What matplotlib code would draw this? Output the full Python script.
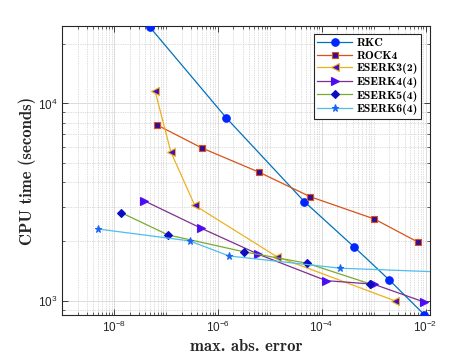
import matplotlib
matplotlib.use("Agg")
import matplotlib.pyplot as plt
from matplotlib.ticker import LogLocator, LogFormatterMathtext, NullFormatter
import matplotlib.font_manager as fm
import os

# ---- data ----
rkc_err = [4.9e-8, 1.46e-6, 4.65e-5, 4.15e-4, 1.99e-3, 9.5e-3]
rkc_cpu = [24400, 8440, 3173, 1877, 1274, 847]

rock4_err = [6.65e-8, 4.97e-7, 6.3e-6, 5.98e-5, 1.03e-3, 7.2e-3]
rock4_cpu = [7790, 5936, 4472, 3365, 2594, 1977]

eserk3_err = [6.17e-8, 1.25e-7, 3.59e-7, 1.36e-5, 2.6e-3]
eserk3_cpu = [11590, 5663, 3042, 1671, 996]

eserk4_err = [3.78e-8, 4.8e-7, 6.03e-6, 1.22e-4, 1.0e-3, 9.5e-3]
eserk4_cpu = [3211, 2327, 1718, 1262, 1211, 982]

eserk5_err = [1.38e-8, 1.1e-7, 3.24e-6, 5.24e-5, 8.57e-4]
eserk5_cpu = [2791, 2153, 1766, 1546, 1215]

eserk6_err = [4.92e-9, 2.88e-7, 1.64e-6, 2.29e-4, 2.0e-2]
eserk6_cpu = [2307, 2007, 1684, 1459, 1396]

labels = ["RKC", "ROCK4", "ESERK3(2)", "ESERK4(4)", "ESERK5(4)", "ESERK6(4)"]
x_label = "max. abs. error"
y_label = "CPU time (seconds)"

# ---- fonts ----
mpl_font_dir = os.path.join(matplotlib.get_data_path(), "fonts", "ttf")
bold_path = os.path.join(mpl_font_dir, "cmb10.ttf")
if os.path.exists(bold_path):
    fm.fontManager.addfont(bold_path)
    lab_font = fm.FontProperties(fname=bold_path)
else:
    lab_font = fm.FontProperties(family="DejaVu Serif", weight="bold")

plt.rcParams["mathtext.fontset"] = "custom"
plt.rcParams["mathtext.rm"] = "Liberation Sans"
plt.rcParams["mathtext.it"] = "Liberation Sans"
plt.rcParams["font.family"] = ["Liberation Sans", "DejaVu Sans"]

fig = plt.figure(figsize=(4.74, 3.55), dpi=100)
ax = fig.add_axes([0.1308, 0.1127, 0.9065 - 0.1308, 0.9268 - 0.1127])

series = [
    (rkc_err, rkc_cpu, "#0072BD", "o", 5.4, (0.0, 0.15, 1.0), (0.0, 0.15, 1.0)),
    (rock4_err, rock4_cpu, "#D95319", "s", 4.0, (0.2, 0.05, 0.6), "#D95319"),
    (eserk3_err, eserk3_cpu, "#EDB120", "<", 5.2, (0.25, 0.05, 0.8), "#EDB120"),
    (eserk4_err, eserk4_cpu, "#7E2F8E", ">", 5.4, (0.3, 0.05, 0.95), (0.3, 0.05, 0.95)),
    (eserk5_err, eserk5_cpu, "#77AC30", "D", 4.0, (0.05, 0.05, 0.75), (0.05, 0.05, 0.75)),
    (eserk6_err, eserk6_cpu, "#4DBEEE", "*", 5.2, (0.1, 0.4, 0.95), (0.1, 0.4, 0.95)),
]

for (x, y, c, m, ms, fc, ec), lab in zip(series, labels):
    ax.plot(x, y, color=c, lw=0.9, marker=m, ms=ms, mfc=fc, mec=ec, mew=0.8,
            label=lab, zorder=3)

ax.set_xscale("log")
ax.set_yscale("log")
ax.set_xlim(1e-9, 1.2e-2)
ax.set_ylim(845, 24700)

ax.yaxis.set_major_locator(LogLocator(base=10, numticks=20, subs=(1.0,)))
ax.yaxis.set_major_formatter(LogFormatterMathtext())
ax.set_xticks([1e-8, 1e-6, 1e-4, 1e-2])
ax.xaxis.set_major_formatter(LogFormatterMathtext())
ax.set_xticks([10.0**k * s for k in range(-9, -1) for s in range(1, 10)
               if 1e-9 <= 10.0**k * s <= 1.2e-2 and not (s == 1 and k in (-8, -6, -4, -2))],
              minor=True)
ax.xaxis.set_minor_formatter(NullFormatter())
ax.yaxis.set_minor_locator(LogLocator(base=10, subs=range(2, 10), numticks=20))
ax.yaxis.set_minor_formatter(NullFormatter())

ax.grid(True, which="major", color="#d6d6d6", lw=0.6, ls="-", zorder=0)
ax.grid(True, which="minor", color="#bdbdbd", lw=0.5, ls=(0, (1, 1.5)), zorder=0)
ax.set_axisbelow(True)

ax.tick_params(which="both", direction="in", top=True, right=True, colors="#262626",
               labelsize=8.5)
ax.tick_params(which="major", length=4, width=0.6)
ax.tick_params(which="minor", length=2, width=0.5)
for sp in ax.spines.values():
    sp.set_color("#262626")
    sp.set_linewidth(0.8)

ax.set_xlabel(x_label, fontproperties=lab_font, fontsize=12, color="#262626", labelpad=3)
ax.set_ylabel(y_label, fontproperties=lab_font, fontsize=12, color="#262626", labelpad=1)

leg_font = lab_font.copy()
leg_font.set_size(8.5)
leg = ax.legend(loc="upper right", prop=leg_font, frameon=True, fancybox=False,
                edgecolor="#262626", framealpha=1, borderpad=0.3, labelspacing=0.2,
                handlelength=2.9, handletextpad=0.4, borderaxespad=0.7)
leg.get_frame().set_linewidth(0.8)

fig.savefig("out.png", dpi=100)
